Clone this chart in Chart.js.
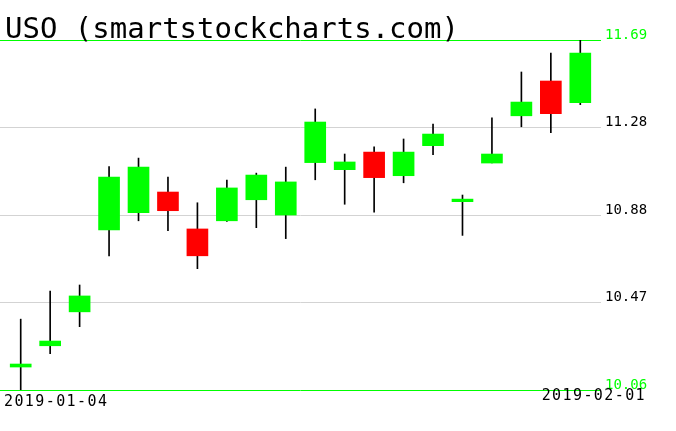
<!DOCTYPE html>
<html>
<head>
<meta charset="utf-8">
<script src="https://cdn.jsdelivr.net/npm/chart.js@4/dist/chart.umd.min.js"></script>
<style>
    html, body { margin: 0; padding: 0; background: #fff; }
</style>
</head>
<body>
<canvas id="graficaVelas" width="676" height="431"></canvas>
<script>
const titulo = 'USO (smartstockcharts.com)';

const fechas = ['2019-01-04', '2019-01-07', '2019-01-08', '2019-01-09', '2019-01-10',
    '2019-01-11', '2019-01-14', '2019-01-15', '2019-01-16', '2019-01-17',
    '2019-01-18', '2019-01-22', '2019-01-23', '2019-01-24', '2019-01-25',
    '2019-01-28', '2019-01-29', '2019-01-30', '2019-01-31', '2019-02-01'];

const aperturas = [10.167, 10.266, 10.424, 10.806, 10.886, 10.982, 10.810, 10.848, 10.946, 10.875,
    11.119, 11.086, 11.168, 11.058, 11.198, 10.937, 11.117, 11.337, 11.499, 11.398];
const maximos = [10.390, 10.521, 10.549, 11.100, 11.140, 11.052, 10.932, 11.038, 11.070, 11.098,
    11.369, 11.159, 11.192, 11.229, 11.299, 10.968, 11.327, 11.541, 11.629, 11.690];
const minimos = [10.060, 10.229, 10.355, 10.685, 10.848, 10.802, 10.625, 10.845, 10.816, 10.765,
    11.039, 10.925, 10.888, 11.025, 11.156, 10.780, 11.117, 11.286, 11.258, 11.389];
const cierres = [10.181, 10.288, 10.498, 11.052, 11.098, 10.895, 10.685, 11.001, 11.061, 11.029,
    11.308, 11.122, 11.049, 11.168, 11.252, 10.949, 11.159, 11.401, 11.347, 11.629];

// marcas del eje de precios (derecha)
const valoresEje = [10.06, 10.4675, 10.875, 11.2825, 11.69];
const etiquetasEje = ['10.06', '10.47', '10.88', '11.28', '11.69'];

const VERDE = '#00ff00';
const ROJO = '#ff0000';

function esExtremo(i) {
    return i === 0 || i === valoresEje.length - 1;
}

// titulo y las dos fechas de los extremos
const rotulos = {
    id: 'rotulos',
    afterDraw(chart) {
        const { ctx, chartArea } = chart;
        ctx.save();
        ctx.fillStyle = '#000';
        ctx.textBaseline = 'alphabetic';
        ctx.textAlign = 'left';
        ctx.font = '29px "DejaVu Sans Mono"';
        ctx.fillText(titulo, 5, chartArea.top - 2);

        ctx.font = '15px "DejaVu Sans Mono"';
        ctx.letterSpacing = '1.4px';
        ctx.fillText(fechas[0], 4, chartArea.bottom + 16);
        ctx.textAlign = 'right';
        ctx.fillText(fechas[fechas.length - 1], 646, chartArea.bottom + 10);
        ctx.restore();
    }
};

function inicializarGraficaVelas() {
    const ctx = document.getElementById('graficaVelas').getContext('2d');

    const cuerpos = fechas.map((f, i) => ({ x: i, y: [aperturas[i], cierres[i]] }));
    const mechas = fechas.map((f, i) => ({ x: i, y: [minimos[i], maximos[i]] }));
    const colores = fechas.map((f, i) => cierres[i] >= aperturas[i] ? VERDE : ROJO);

    new Chart(ctx, {
        type: 'bar',
        data: {
            datasets: [
                {
                    label: 'cuerpo',
                    data: cuerpos,
                    backgroundColor: colores,
                    borderWidth: 0,
                    barThickness: 21,
                    grouped: false
                },
                {
                    label: 'mecha',
                    data: mechas,
                    backgroundColor: '#000',
                    borderWidth: 0,
                    barThickness: 1,
                    grouped: false
                }
            ]
        },
        options: {
            responsive: false,
            animation: false,
            devicePixelRatio: 1,
            layout: {
                padding: { top: 40, bottom: 41, left: 0, right: 0 }
            },
            scales: {
                x: {
                    type: 'linear',
                    min: -0.703,
                    max: 19.703,
                    offset: false,
                    display: false
                },
                y: {
                    position: 'right',
                    min: 10.06,
                    max: 11.69,
                    afterBuildTicks: scale => {
                        scale.ticks = valoresEje.map(v => ({ value: v }));
                    },
                    afterFit: scale => {
                        scale.width = 75;
                    },
                    border: { display: false },
                    grid: {
                        drawTicks: false,
                        lineWidth: 1,
                        color: c => esExtremo(c.index) ? VERDE : '#d3d3d3'
                    },
                    ticks: {
                        padding: 4,
                        labelOffset: -5,
                        font: { family: 'DejaVu Sans Mono', size: 14 },
                        color: c => esExtremo(c.index) ? VERDE : '#000',
                        callback: (v, i) => etiquetasEje[i]
                    }
                }
            },
            plugins: {
                legend: { display: false },
                tooltip: { enabled: false }
            }
        },
        plugins: [rotulos]
    });
}

inicializarGraficaVelas();
</script>
</body>
</html>
